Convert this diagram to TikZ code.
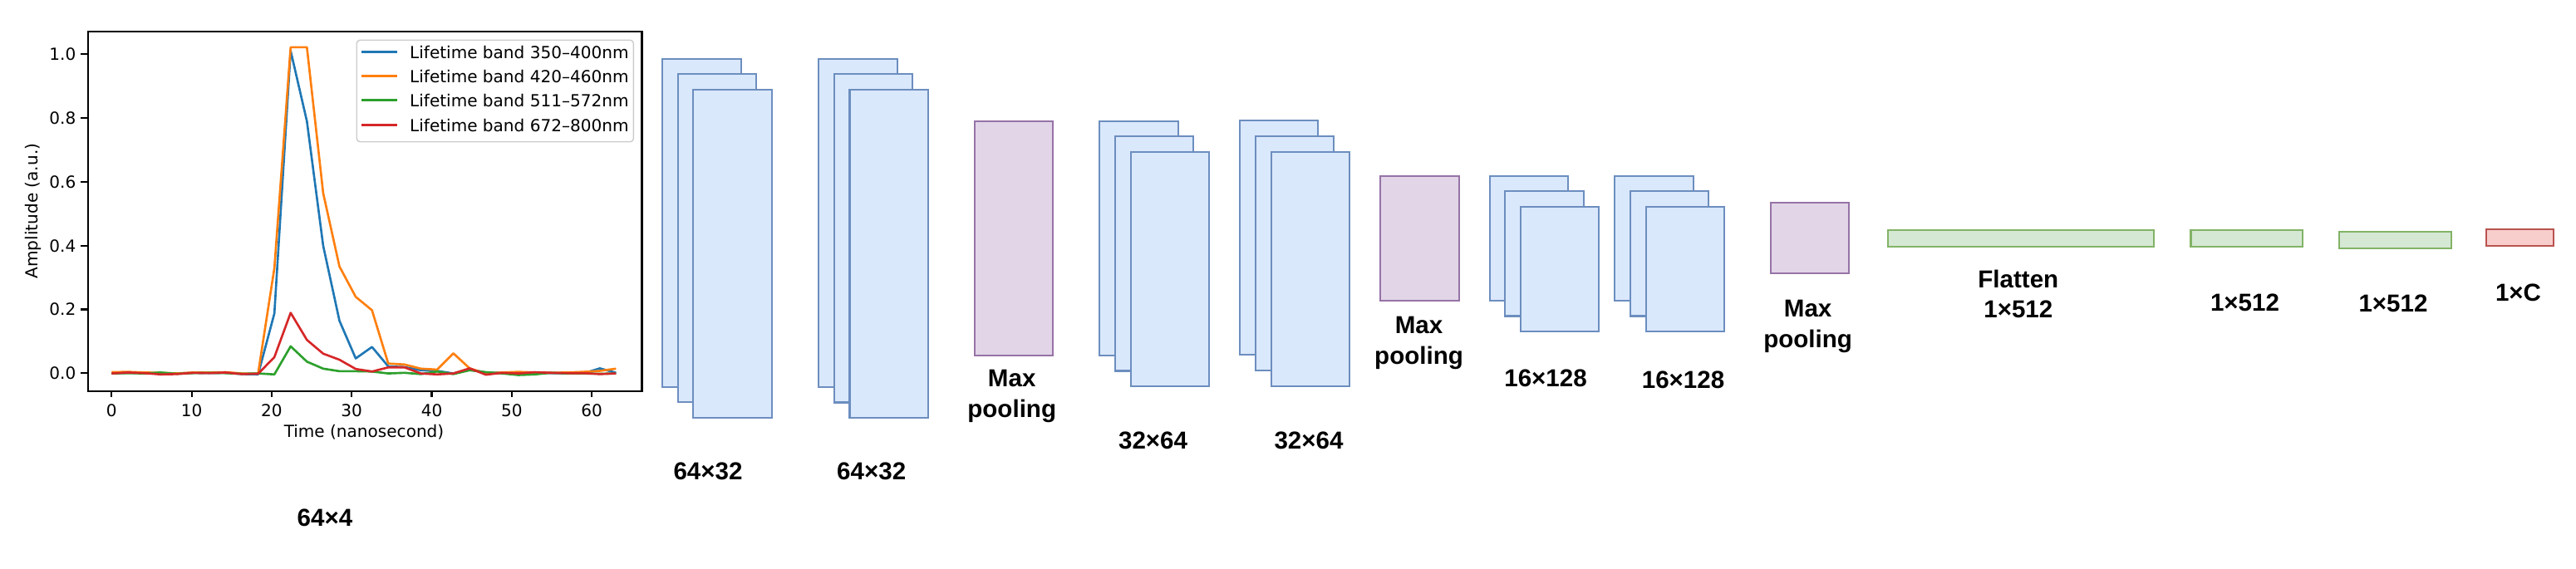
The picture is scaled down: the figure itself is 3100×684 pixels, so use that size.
\documentclass[tikz,border=0pt]{standalone}
\usepackage{fontspec}
\newfontfamily\plotfont{DejaVu Sans}
\newfontfamily\labfont{Liberation Sans}
\definecolor{convfill}{HTML}{DAE8FC}\definecolor{convdraw}{HTML}{6C8EBF}
\definecolor{poolfill}{HTML}{E1D5E7}\definecolor{pooldraw}{HTML}{9673A6}
\definecolor{fcfill}{HTML}{D5E8D4}\definecolor{fcdraw}{HTML}{82B366}
\definecolor{outfill}{HTML}{F8CECC}\definecolor{outdraw}{HTML}{B85450}
\definecolor{mblue}{HTML}{1F77B4}\definecolor{morange}{HTML}{FF7F0E}
\definecolor{mgreen}{HTML}{2CA02C}\definecolor{mred}{HTML}{D62728}
\newcommand\stk[6]{%
  \foreach \i in {0,1,2}{\node (#1\i) [convbox, minimum width=#4, minimum height=#5] at ({#2+\i*#6},{#3+\i*#6}) {};}}
\begin{document}
\begin{tikzpicture}[x=0.01cm,y=-0.01cm,
  boxbase/.style={anchor=north west, inner sep=0, line width=0.6pt},
  convbox/.style={boxbase, fill=convfill, draw=convdraw},
  poolbox/.style={boxbase, fill=poolfill, draw=pooldraw},
  fcbox/.style={boxbase, fill=fcfill, draw=fcdraw},
  outbox/.style={boxbase, fill=outfill, draw=outdraw},
  lab/.style={font=\labfont\bfseries\fontsize{8.4}{10}\selectfont, inner sep=0, anchor=base},
  ptext/.style={font=\plotfont\fontsize{5.7}{7}\selectfont, inner sep=0},
  plotline/.style={line width=0.75pt, line join=round}]
\useasboundingbox (0,0) rectangle (3100,684);

% ---------------- plot ----------------
\begin{scope}[shift={(1.343cm,-4.493cm)}, x=0.1957cm, y=3.84cm]
\draw[mblue, plotline] plot coordinates {(0,0) (1,0.002) (2,0.001) (3,0) (4,0) (5,0.002) (6,0.001) (7,0.002) (8,-0.002) (9,-0.003) (10,0.188) (11,1.011) (12,0.79) (13,0.40) (14,0.165) (15,0.047) (16,0.083) (17,0.022) (18,0.02) (19,0.01) (20,0.008) (21,0) (22,0.012) (23,0.003) (24,0.002) (25,0) (26,0.003) (27,0.001) (28,0) (29,0) (30,0.016) (31,0.002)};
\draw[morange, plotline] plot coordinates {(0,0.004) (1,0.005) (2,0.003) (3,0.002) (4,0) (5,0.003) (6,0.003) (7,0.004) (8,0) (9,0) (10,0.33) (11,1.022) (12,1.022) (13,0.565) (14,0.335) (15,0.24) (16,0.198) (17,0.031) (18,0.028) (19,0.015) (20,0.012) (21,0.063) (22,0.016) (23,0) (24,0.003) (25,0.005) (26,0.003) (27,0.002) (28,0.003) (29,0.005) (30,0.008) (31,0.015)};
\draw[mgreen, plotline] plot coordinates {(0,0) (1,0.001) (2,0) (3,0.003) (4,-0.001) (5,0.001) (6,0.002) (7,0.001) (8,-0.001) (9,0) (10,-0.003) (11,0.085) (12,0.037) (13,0.015) (14,0.007) (15,0.007) (16,0.006) (17,0) (18,0.002) (19,-0.002) (20,0.006) (21,-0.002) (22,0.01) (23,0.004) (24,0) (25,-0.005) (26,-0.003) (27,0.002) (28,0) (29,0) (30,-0.001) (31,0)};
\draw[mred, plotline] plot coordinates {(0,0) (1,0.003) (2,0.001) (3,-0.003) (4,-0.002) (5,0.002) (6,0.001) (7,0.003) (8,-0.002) (9,-0.001) (10,0.051) (11,0.19) (12,0.105) (13,0.062) (14,0.043) (15,0.014) (16,0.006) (17,0.019) (18,0.019) (19,0) (20,-0.003) (21,0) (22,0.016) (23,-0.004) (24,0.002) (25,0) (26,0.004) (27,0.002) (28,0.001) (29,0.001) (30,-0.002) (31,0)};
\end{scope}
% axes frame
\node (axes) [draw=black, line width=0.6pt, inner sep=0, anchor=north west, minimum width=6.665cm, minimum height=4.33cm] at (104.5,37) {};
% y ticks
\foreach \v/\t [count=\n] in {0/0.0,0.2/0.2,0.4/0.4,0.6/0.6,0.8/0.8,1.0/1.0}{
  \coordinate (yt\n) at (104.5,{449.3-384*\v});
  \draw[line width=0.6pt] (yt\n) -- ++(-7.5,0);
  \node (ytl\n) [ptext, anchor=east] at (92,{449.3-384*\v}) {\t};
}
% x ticks
\foreach \t [count=\n] in {0,10,20,30,40,50,60}{
  \coordinate (xt\n) at ({134.3+9.63*\t},470);
  \draw[line width=0.6pt] (xt\n) -- ++(0,7.5);
  \node (xtl\n) [ptext, anchor=north] at ({134.3+9.63*\t},485.5) {\t};
}
\node (xlabel) [ptext] at (438,520) {Time (nanosecond)};
\node (ylabel) [ptext, rotate=90] at (40,254) {Amplitude (a.u.)};
% legend
\node (legend) [draw=black!20, fill=white, rounded corners=1.2pt, line width=0.4pt, inner sep=0, anchor=north west, minimum width=3.33cm, minimum height=1.225cm] at (428.5,47.5) {};
\foreach \c/\txt/\yy [count=\n] in {mblue/350–400nm/62.7, morange/420–460nm/91.7, mgreen/511–572nm/120.7, mred/672–800nm/150.7}{
  \coordinate (ls\n) at (435,\yy);
  \coordinate (le\n) at (477.5,\yy);
  \draw[\c, plotline] (ls\n) -- (le\n);
  \node (lt\n) [ptext, anchor=west] at (492.5,\yy) {Lifetime band \txt};
}
\node (l644) [lab] at (391,633.5) {64×4};

% ---------------- network ----------------
\stk{sa}{796}{69.5}{0.945cm}{3.95cm}{18.6}
\stk{sb}{984}{69.5}{0.945cm}{3.95cm}{18.7}
\node (p1) [poolbox, minimum width=0.94cm, minimum height=2.825cm] at (1172,144.5) {};
\stk{sc}{1322}{144.5}{0.945cm}{2.82cm}{18.8}
\stk{sd}{1490.5}{144.2}{0.948cm}{2.82cm}{19}
\node (p2) [poolbox, minimum width=0.946cm, minimum height=1.5cm] at (1660,210.7) {};
\stk{se}{1791.7}{210.7}{0.942cm}{1.5cm}{18.6}
\stk{sf}{1942.3}{210.7}{0.942cm}{1.5cm}{18.6}
\node (p3) [poolbox, minimum width=0.937cm, minimum height=0.85cm] at (2130,243.3) {};
\node (flat) [fcbox, minimum width=3.2cm, minimum height=0.194cm] at (2270.5,276.3) {};
\node (fc1) [fcbox, minimum width=1.346cm, minimum height=0.194cm] at (2635.4,276.3) {};
\node (fc2) [fcbox, minimum width=1.347cm, minimum height=0.197cm] at (2814,278.3) {};
\node (out) [outbox, minimum width=0.807cm, minimum height=0.2cm] at (2991,274.7) {};

% labels
\node (la) [lab] at (852,577.5) {64×32};
\node (lb) [lab] at (1048.7,577.5) {64×32};
\node (lp1a) [lab] at (1217.7,465.5) {Max};
\node (lp1b) [lab] at (1217.7,502) {pooling};
\node (lc) [lab] at (1387.6,540.5) {32×64};
\node (ld) [lab] at (1575,540.5) {32×64};
\node (lp2a) [lab] at (1707.5,401) {Max};
\node (lp2b) [lab] at (1707.5,438) {pooling};
\node (le) [lab] at (1860,465.5) {16×128};
\node (lf) [lab] at (2025.5,467) {16×128};
\node (lp3a) [lab] at (2175.6,381) {Max};
\node (lp3b) [lab] at (2175.6,418) {pooling};
\node (lfla) [lab] at (2428.8,346.5) {Flatten};
\node (lflb) [lab] at (2428.8,382) {1×512};
\node (lfc1) [lab] at (2701.5,374) {1×512};
\node (lfc2) [lab] at (2880,375.5) {1×512};
\node (lout) [lab] at (3030.5,362) {1×C};
\end{tikzpicture}
\end{document}
